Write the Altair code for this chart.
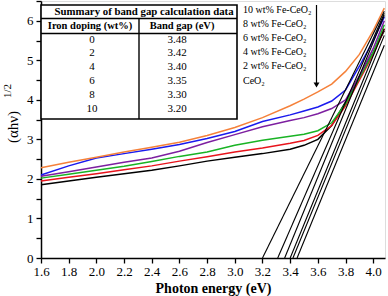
import altair as alt
import pandas as pd

# ---------------- data ----------------
energy = [1.6, 1.8, 2.0, 2.2, 2.4, 2.6, 2.8, 3.0, 3.2, 3.4, 3.5, 3.6, 3.7, 3.8, 3.9, 4.0, 4.08]
series_names = ["CeO2", "2 wt%", "4 wt%", "6 wt%", "8 wt%", "10 wt%"]
ceo2   = [1.85, 1.95, 2.04, 2.13, 2.22, 2.33, 2.45, 2.55, 2.64, 2.75, 2.85, 3.00, 3.35, 3.95, 4.60, 5.20, 5.75]
fe2    = [1.95, 2.04, 2.13, 2.23, 2.33, 2.45, 2.56, 2.68, 2.78, 2.90, 2.97, 3.10, 3.35, 3.85, 4.50, 5.15, 5.80]
fe4    = [2.02, 2.12, 2.22, 2.32, 2.44, 2.57, 2.68, 2.85, 2.98, 3.08, 3.13, 3.22, 3.42, 3.90, 4.55, 5.20, 5.90]
fe6    = [2.07, 2.18, 2.30, 2.42, 2.53, 2.70, 2.92, 3.12, 3.32, 3.48, 3.55, 3.65, 3.78, 4.00, 4.60, 5.30, 6.00]
fe8    = [2.10, 2.33, 2.53, 2.64, 2.75, 2.87, 3.02, 3.20, 3.45, 3.62, 3.72, 3.82, 3.97, 4.25, 4.85, 5.50, 6.10]
fe10   = [2.28, 2.42, 2.55, 2.68, 2.80, 2.93, 3.10, 3.30, 3.55, 3.85, 4.02, 4.20, 4.40, 4.72, 5.15, 5.75, 6.32]
colors = ["#000000", "#e8141c", "#19b324", "#7d1fa0", "#1a1aee", "#f5813a"]

# tangent (Tauc) lines: x-intercept and top end
tangent_intercept = [3.45, 3.42, 3.40, 3.36, 3.31, 3.20]
tangent_top_e     = [4.08, 4.08, 4.08, 4.08, 4.08, 4.08]
tangent_top_v     = [5.38, 5.63, 5.80, 6.14, 6.19, 6.24]

# inset table
table_title = "Summary of  band gap calculation data"
col_headers = ["Iron doping (wt%)", "Band gap (eV)"]
doping = ["0", "2", "4", "6", "8", "10"]
band_gap = ["3.48", "3.42", "3.40", "3.35", "3.30", "3.20"]

# legend labels (top to bottom)
legend_labels = ["10 wt% Fe-CeO\u2082", "8  wt% Fe-CeO\u2082", "6  wt% Fe-CeO\u2082",
                 "4  wt% Fe-CeO\u2082", "2  wt% Fe-CeO\u2082", "CeO\u2082"]

x_ticks = [1.6, 1.8, 2.0, 2.2, 2.4, 2.6, 2.8, 3.0, 3.2, 3.4, 3.6, 3.8, 4.0]
y_ticks = [0, 0.5, 1, 1.5, 2, 2.5, 3, 3.5, 4, 4.5, 5, 5.5, 6, 6.5]

# ---------------- frames ----------------
all_series = [ceo2, fe2, fe4, fe6, fe8, fe10]
curves = pd.DataFrame([
    {"series": name, "E": e, "V": v}
    for name, vals in zip(series_names, all_series)
    for e, v in zip(energy, vals)
])

tangents = pd.DataFrame(
    [{"line": i, "E": e0, "V": 0.0} for i, e0 in enumerate(tangent_intercept)] +
    [{"line": i, "E": e1, "V": v1} for i, (e1, v1) in enumerate(zip(tangent_top_e, tangent_top_v))]
)

FONT = "Liberation Serif"
W, H = 344, 257
xscale = alt.Scale(domain=[1.6, 4.085], nice=False, zero=False)
yscale = alt.Scale(domain=[0, 6.5], nice=False)

x_axis = alt.Axis(
    values=x_ticks, format=".1f", title="Photon energy (eV)", grid=False,
    labelFont=FONT, labelFontSize=13, labelColor="black", labelPadding=2, labelOverlap=False,
    tickSize=5, tickColor="black", tickWidth=1.3, domainColor="black", domainWidth=1.5,
    titleFont=FONT, titleFontSize=14, titleFontWeight="bold", titleColor="black", titlePadding=3,
    labelFlush=False)
y_axis = alt.Axis(
    values=y_ticks, format=".0f",
    labelExpr="datum.value % 1 == 0 ? format(datum.value, 'd') : ''", title=None, grid=False,
    labelFont=FONT, labelFontSize=13, labelColor="black", labelPadding=3, labelOverlap=False,
    tickSize=5, tickColor="black", tickWidth=1.3, domainColor="black", domainWidth=1.5,
    labelFlush=False)

curve_layer = alt.Chart(curves).mark_line(strokeWidth=1.5).encode(
    x=alt.X("E:Q", scale=xscale, axis=x_axis),
    y=alt.Y("V:Q", scale=yscale, axis=y_axis),
    color=alt.Color("series:N", scale=alt.Scale(domain=series_names, range=colors), legend=None),
)

tangent_layer = alt.Chart(tangents).mark_line(color="black", strokeWidth=1.1).encode(
    x=alt.X("E:Q", scale=xscale, axis=x_axis),
    y=alt.Y("V:Q", scale=yscale, axis=y_axis),
    detail="line:N"
)

one = alt.Data(values=[{"a": 1}])

table_box = alt.Chart(one).mark_rect(fill="white", stroke="black", strokeWidth=1.6).encode(
    x=alt.value(0), x2=alt.value(196), y=alt.value(4), y2=alt.value(118))
rule1 = alt.Chart(one).mark_rule(color="black", strokeWidth=1.4).encode(
    x=alt.value(0), x2=alt.value(196), y=alt.value(17.5))
rule2 = alt.Chart(one).mark_rule(color="black", strokeWidth=1.4).encode(
    x=alt.value(0), x2=alt.value(196), y=alt.value(32.5))
rule3 = alt.Chart(one).mark_rule(color="black", strokeWidth=1.4).encode(
    x=alt.value(98), y=alt.value(17.5), y2=alt.value(118))

title_txt = alt.Chart(pd.DataFrame({"t": [table_title]})).mark_text(
    font=FONT, fontSize=10.8, fontWeight="bold", color="black", align="center", baseline="middle"
).encode(text="t:N", x=alt.value(103), y=alt.value(11))

hdr_l = alt.Chart(pd.DataFrame({"t": [col_headers[0]]})).mark_text(
    font=FONT, fontSize=10.5, fontWeight="bold", color="black", align="center", baseline="middle"
).encode(text="t:N", x=alt.value(49), y=alt.value(25))
hdr_r = alt.Chart(pd.DataFrame({"t": [col_headers[1]]})).mark_text(
    font=FONT, fontSize=10.5, fontWeight="bold", color="black", align="center", baseline="middle"
).encode(text="t:N", x=alt.value(141), y=alt.value(25))

# table rows / legend lines as multi-line text
row_d = alt.Chart(pd.DataFrame({"t": [doping]})).mark_text(
    font=FONT, fontSize=11, color="black", align="center", baseline="top", lineHeight=13.85
).encode(text="t", x=alt.value(51), y=alt.value(32.5))
row_g = alt.Chart(pd.DataFrame({"t": [band_gap]})).mark_text(
    font=FONT, fontSize=11, color="black", align="center", baseline="top", lineHeight=13.85
).encode(text="t", x=alt.value(136), y=alt.value(32.5))

leg_txt = alt.Chart(pd.DataFrame({"t": [legend_labels]})).mark_text(
    font=FONT, fontSize=10, color="black", align="left", baseline="top", lineHeight=14.1
).encode(text="t", x=alt.value(202), y=alt.value(4))

arrow_line = alt.Chart(one).mark_rule(color="black", strokeWidth=1.2).encode(
    x=alt.value(275.5), y=alt.value(4), y2=alt.value(82))
arrow_head = alt.Chart(one).mark_point(shape="triangle-down", filled=True, color="black",
                                       size=35, opacity=1).encode(
    x=alt.value(275.5), y=alt.value(84))

ytitle = alt.Chart(pd.DataFrame({"t": ["(\u03b1h\u03bd)"]})).mark_text(
    font=FONT, fontSize=15, color="black", angle=270, align="center", baseline="middle"
).encode(text="t:N", x=alt.value(-28), y=alt.value(126))
ysup = alt.Chart(pd.DataFrame({"t": ["1/2"]})).mark_text(
    font=FONT, fontSize=11, color="black", angle=270, align="center", baseline="middle"
).encode(text="t:N", x=alt.value(-33), y=alt.value(90))

chart = alt.layer(
    curve_layer, tangent_layer, table_box, rule1, rule2, rule3, title_txt, hdr_l, hdr_r,
    row_d, row_g, leg_txt, arrow_line, arrow_head, ytitle, ysup
).properties(
    width=W, height=H,
    autosize=alt.AutoSizeParams(type="none"),
    padding={"left": 41, "top": 1, "right": 3, "bottom": 38},
).configure_view(stroke="black", strokeWidth=1.5).configure(background="white")

chart.save("out.html", embed_options={"renderer": "svg", "actions": False})
